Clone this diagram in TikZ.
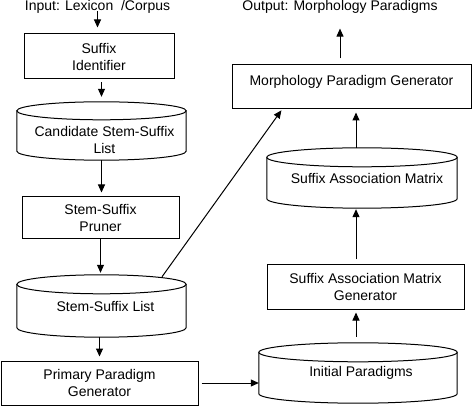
\documentclass[tikz,border=0pt]{standalone}
\usepackage{fontspec}
\setmainfont{Liberation Sans}
\usetikzlibrary{arrows.meta,calc}
\tikzset{
  txt/.style={inner sep=0pt, font=\fontsize{14}{17}\selectfont, align=center},
  box/.style={draw, rectangle, inner sep=0pt, line width=1pt, txt},
  db/.style={rectangle, inner sep=0pt, draw=none, txt},
  arr/.style={line width=1pt, -{Triangle[length=8pt,width=7pt]}, shorten <=3pt, shorten >=3pt},
  cylline/.style={line width=1pt}
}
\newcommand\cylshape[2]{%
  \draw[cylline] let \p1=(#1.west), \p2=(#1.east), \n1={(\x2-\x1)/2} in
    ([yshift=-#2]#1.north west) -- ([yshift=#2]#1.south west)
    arc[start angle=180, end angle=360, x radius=\n1, y radius=#2]
    -- ([yshift=-#2]#1.north east);
  \draw[cylline] let \p1=(#1.west), \p2=(#1.east), \n1={(\x2-\x1)/2} in
    ([yshift=-#2]#1.north) ellipse[x radius=\n1, y radius=#2];
}
\begin{document}
\begin{tikzpicture}[x=1pt,y=-1pt]
\useasboundingbox (0,0) rectangle (474,406);

\node[txt, anchor=base] (in) at (97.5,11) {Input: Lexicon\ \ /Corpus};
\node[txt, anchor=base] (out) at (340,10.5) {Output: Morphology Paradigms};

\node[box, minimum width=150pt, minimum height=45pt] (si) at (99,56.5) {Suffix\\Identifier};
\node[db, minimum width=169pt, minimum height=58pt,
      label={[txt, yshift=-9pt, xshift=3pt]center:Candidate Stem-Suffix\\List}] (cand) at (101.5,131) {};
\node[box, minimum width=157pt, minimum height=42pt] (pr) at (100.5,218) {Stem-Suffix\\Pruner};
\node[db, minimum width=169pt, minimum height=62pt] (ssl) at (101.5,306) {\hspace*{8pt}Stem-Suffix List};
\node[box, minimum width=197pt, minimum height=44pt] (ppg) at (99.5,383) {Primary Paradigm\\Generator};

\node[db, minimum width=198pt, minimum height=60pt] (ip) at (358,373) {\hspace*{6pt}Initial Paradigms};
\node[box, minimum width=197pt, minimum height=44pt] (samg) at (365.5,287) {Suffix Association Matrix\\Generator};
\node[db, minimum width=190pt, minimum height=60pt] (sam) at (362,178) {\hspace*{10pt}Suffix Association Matrix};
\node[box, minimum width=239pt, minimum height=44pt,
      label={[txt, yshift=5pt]center:Morphology Paradigm Generator}] (mpg) at (351.5,87) {};

\cylshape{cand}{9pt}
\cylshape{ssl}{9.5pt}
\cylshape{ip}{9.5pt}
\cylshape{sam}{9.5pt}

\coordinate (col) at (356,0);

\draw[arr, shorten <=-3pt, shorten >=6pt] (in.south) -- (in.south |- si.north);
\draw[arr, shorten >=5pt] (si.south -| cand.north) -- (cand.north);
\draw[arr, shorten <=0pt, shorten >=4pt] (cand.south) -- (cand.south |- pr.north);
\draw[arr, shorten <=0pt, shorten >=2pt] (pr.south) -- (pr.south |- ssl.north);
\draw[arr, shorten <=0pt, shorten >=4pt] (ssl.south -| ppg.north) -- (ppg.north);
\draw[arr, shorten >=0pt] (ppg.east) -- (ppg.east -| ip.west);
\draw[arr, shorten <=6pt] (col |- ip.north) -- (col |- samg.south);
\draw[arr, shorten <=5pt, shorten >=1pt] (col |- samg.north) -- (col |- sam.south);
\draw[arr, shorten <=0pt] (col |- sam.north) -- (col |- mpg.south);
\draw[arr, shorten <=6pt, shorten >=15pt] (out.south |- mpg.north) -- (out.south);
\draw[arr, shorten <=0pt, shorten >=1pt] ([xshift=60.5pt, yshift=-2pt]ssl.north) -- ([xshift=-69.5pt]mpg.south);
\end{tikzpicture}
\end{document}
